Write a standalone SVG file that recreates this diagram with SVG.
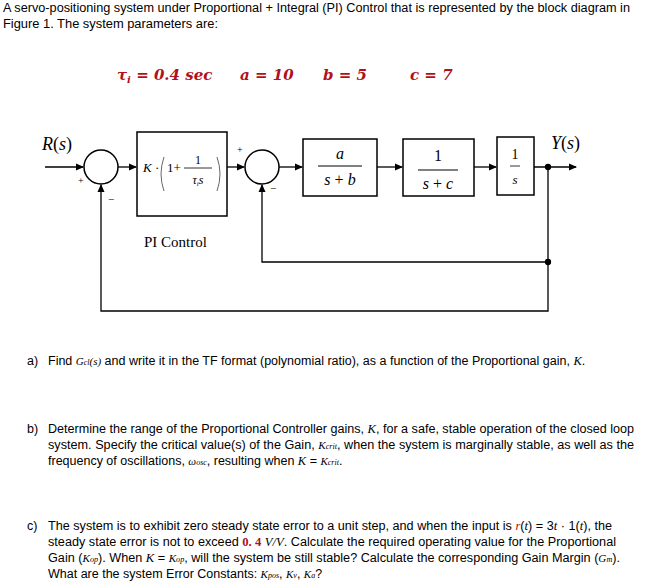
<svg xmlns="http://www.w3.org/2000/svg" width="650" height="587" viewBox="0 0 650 587">
<style>
.t{font-family:"Liberation Sans",Arial,sans-serif;font-size:12.5px;fill:#000}
.m{font-family:"Liberation Serif","Times New Roman",serif;font-style:italic}
.r{font-family:"Liberation Serif",serif;fill:#000}
.p{font-family:"DejaVu Serif",serif;font-weight:bold;font-style:italic;font-size:15px;fill:#b01020}
.box{fill:#fff;stroke:#000;stroke-width:1.5}
.ln{fill:none;stroke:#000;stroke-width:1.3}
</style>
<defs><marker id="a" markerWidth="8" markerHeight="8" refX="7" refY="4" orient="auto" markerUnits="userSpaceOnUse"><path d="M0,0.5 L8,4 L0,7.5Z" fill="#000"/></marker></defs>
<rect width="650" height="587" fill="#fff"/>
<text class="t" x="3" y="12" textLength="627" lengthAdjust="spacingAndGlyphs">A servo-positioning system under Proportional + Integral (PI) Control that is represented by the block diagram in</text>
<text class="t" x="3" y="28" textLength="215" lengthAdjust="spacingAndGlyphs">Figure 1. The system parameters are:</text>
<g class="p">
<text x="117" y="80">τ<tspan font-size="10" dy="3">i</tspan><tspan dy="-3"> = 0.4 sec</tspan></text>
<text x="240" y="80">a = 10</text>
<text x="323" y="80">b = 5</text>
<text x="410" y="80">c = 7</text>
</g>
<g id="connectors" class="ln">
<line x1="45" y1="167" x2="83" y2="167" marker-end="url(#a)"/>
<line x1="118" y1="167" x2="136" y2="167" marker-end="url(#a)"/>
<line x1="227" y1="167" x2="244" y2="167" marker-end="url(#a)"/>
<line x1="279" y1="167" x2="302" y2="167" marker-end="url(#a)"/>
<line x1="377" y1="167" x2="402" y2="167" marker-end="url(#a)"/>
<line x1="474" y1="167" x2="496" y2="167" marker-end="url(#a)"/>
<line x1="534" y1="167" x2="576" y2="167" marker-end="url(#a)"/>
<polyline points="548,167 548,311 101,311 101,185" marker-end="url(#a)"/>
<polyline points="548,262 262,262 262,185" marker-end="url(#a)"/>
<circle cx="548" cy="167" r="2.5" fill="#000"/>
<circle cx="548" cy="262" r="2.5" fill="#000"/>
</g>
<g id="sum1"><circle class="box" cx="101" cy="167" r="17"/><text class="r" x="78" y="184" style="font-size:10px">+</text><text class="r" x="108" y="203" style="font-size:11px">−</text></g>
<g id="sum2"><circle class="box" cx="262" cy="167" r="17"/><text class="r" x="237" y="153" style="font-size:10px">+</text><text class="r" x="270" y="192" style="font-size:11px">−</text></g>
<g id="pi">
<rect class="box" x="137" y="132" width="90" height="84"/>
<text class="r" x="143" y="172" style="font-size:13px"><tspan class="m">K</tspan> ·</text>
<path d="M164,157 Q158,174 164,191 M217,157 Q223,174 217,191" fill="none" stroke="#666" stroke-width="1"/>
<text class="r" x="167" y="172" style="font-size:13px">1+</text>
<line x1="184" y1="168" x2="212" y2="168" stroke="#000" stroke-width="0.8"/>
<text class="r" x="198" y="164" style="font-size:12px" text-anchor="middle">1</text>
<text class="r m" x="198" y="184" style="font-size:12px" text-anchor="middle">τ<tspan style="font-size:7px" dy="2">i</tspan><tspan dy="-2">s</tspan></text>
<text class="r" x="144" y="247" style="font-size:15px">PI Control</text>
</g>
<g id="g1">
<rect class="box" x="303" y="139" width="74" height="57"/>
<text class="r m" x="340" y="159" style="font-size:16px" text-anchor="middle">a</text>
<line x1="318" y1="166" x2="362" y2="166" stroke="#000" stroke-width="1"/>
<text class="r" x="340" y="185" style="font-size:16px" text-anchor="middle"><tspan class="m">s</tspan> + <tspan class="m">b</tspan></text>
</g>
<g id="g2">
<rect class="box" x="403" y="139" width="71" height="57"/>
<text class="r" x="438" y="161" style="font-size:16px" text-anchor="middle">1</text>
<line x1="418" y1="170" x2="458" y2="170" stroke="#000" stroke-width="1"/>
<text class="r" x="438" y="189" style="font-size:16px" text-anchor="middle"><tspan class="m">s</tspan> + <tspan class="m">c</tspan></text>
</g>
<g id="g3">
<rect class="box" x="497" y="137" width="37" height="58"/>
<text class="r" x="515" y="159" style="font-size:14px" text-anchor="middle">1</text>
<line x1="510" y1="166" x2="520" y2="166" stroke="#000" stroke-width="0.8"/>
<text class="r m" x="515" y="184" style="font-size:13px" text-anchor="middle">s</text>
</g>
<text class="r" x="42" y="150" style="font-size:18px"><tspan class="m">R</tspan>(<tspan class="m">s</tspan>)</text>
<text class="r" x="551" y="149" style="font-size:18px"><tspan class="m">Y</tspan>(<tspan class="m">s</tspan>)</text>
<g class="t">
<text x="27" y="365">a)</text>
<text x="48" y="365">Find <tspan class="m" font-size="11">G<tspan font-size="8">cl</tspan>(s)</tspan> and write it in the TF format (polynomial ratio), as a function of the Proportional gain, <tspan class="m">K</tspan>.</text>
<text x="27" y="433">b)</text>
<text x="48" y="433" textLength="586" lengthAdjust="spacingAndGlyphs">Determine the range of the Proportional Controller gains, <tspan class="m">K</tspan>, for a safe, stable operation of the closed loop</text>
<text x="48" y="449" textLength="586" lengthAdjust="spacingAndGlyphs">system. Specify the critical value(s) of the Gain, <tspan class="m" font-size="11">K<tspan font-size="8">crit</tspan></tspan>, when the system is marginally stable, as well as the</text>
<text x="48" y="465">frequency of oscillations, <tspan class="m" font-size="11">ω<tspan font-size="8">osc</tspan></tspan>, resulting when <tspan class="m">K</tspan> = <tspan class="m" font-size="11">K<tspan font-size="8">crit</tspan></tspan>.</text>
<text x="27" y="530">c)</text>
<text x="48" y="530" textLength="564" lengthAdjust="spacingAndGlyphs">The system is to exhibit zero steady state error to a unit step, and when the input is <tspan class="m" fill="#c00">r</tspan>(<tspan class="m">t</tspan>) = 3<tspan class="m">t</tspan> · 1(<tspan class="m">t</tspan>), the</text>
<text x="48" y="546" textLength="568" lengthAdjust="spacingAndGlyphs">steady state error is not to exceed <tspan fill="#b01020" font-weight="bold" font-family="Liberation Serif">0. 4</tspan> <tspan class="m">V/V</tspan>. Calculate the required operating value for the Proportional</text>
<text x="48" y="562" textLength="572" lengthAdjust="spacingAndGlyphs">Gain (<tspan class="m" font-size="11">K<tspan font-size="8">op</tspan></tspan>). When <tspan class="m">K</tspan> = <tspan class="m" font-size="11">K<tspan font-size="8">op</tspan></tspan>, will the system be still stable? Calculate the corresponding Gain Margin (<tspan class="m" font-size="11">G<tspan font-size="8">m</tspan></tspan>).</text>
<text x="48" y="578">What are the system Error Constants: <tspan class="m" font-size="11">K<tspan font-size="8">pos</tspan></tspan>, <tspan class="m" font-size="11">K<tspan font-size="8">v</tspan></tspan>, <tspan class="m" font-size="11">K<tspan font-size="8">a</tspan></tspan>?</text>
</g>
</svg>
